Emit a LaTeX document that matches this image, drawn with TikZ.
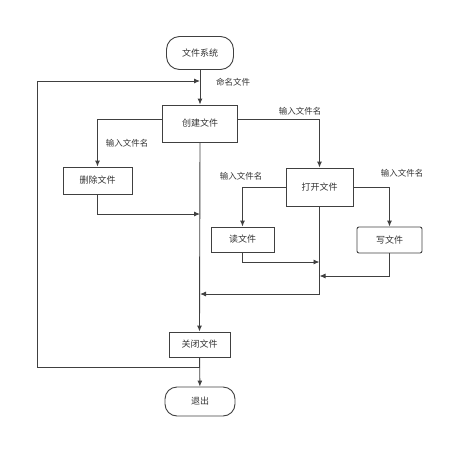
\documentclass[tikz,border=0pt]{standalone}
\usepackage{fontspec}
\setmainfont{Noto Sans CJK SC}
\usepackage{xcolor}
\usepackage{tikz}
\usetikzlibrary{positioning,arrows.meta}

\definecolor{linegray}{HTML}{404040}
\definecolor{textgray}{HTML}{333333}

\tikzset{
  proc/.style={draw=linegray, line width=0.9pt, inner sep=0pt, text=textgray,
    font=\fontsize{9}{9}\selectfont},
  term/.style={proc, rounded corners=13pt},
  lbl/.style={text=textgray, inner sep=0pt, font=\fontsize{8.5}{8.5}\selectfont},
  arr/.style={draw=linegray, line width=0.9pt, -{Latex[length=6pt,width=5pt]}},
  wire/.style={draw=linegray, line width=0.9pt}
}

\begin{document}
\begin{tikzpicture}[x=1pt,y=-1pt]
\useasboundingbox (0,0) rectangle (474,453);
% boxes
\node[term, minimum width=67pt, minimum height=33pt] (fs) at (200,53) {文件系统};
\node[proc, minimum width=75pt, minimum height=37pt] (create) at (200,123.5) {创建文件};
\node[proc, minimum width=69pt, minimum height=27pt] (del) at (97.5,180.5) {删除文件};
\node[proc, minimum width=67pt, minimum height=38pt] (open) at (319.5,187) {打开文件};
\node[proc, minimum width=63pt, minimum height=25pt] (read) at (242.5,239.5) {读文件};
\node[proc, rounded corners=2pt, minimum width=65pt, minimum height=26pt] (write) at (389.5,240) {写文件};
\node[proc, minimum width=61pt, minimum height=25pt] (close) at (199.5,344.5) {关闭文件};
\node[term, rounded corners=12pt, minimum width=70pt, minimum height=29pt] (exit) at (200,401.5) {退出};
% labels
\node[lbl] (name) at (233,82) {命名文件};
\node[lbl] (indel) at (127,143) {输入文件名};
\node[lbl] (inopen) at (300,111) {输入文件名};
\node[lbl] (inread) at (241,176) {输入文件名};
\node[lbl] (inwrite) at (402,173) {输入文件名};
% join points
\coordinate (jdel) at (200,214);
\coordinate (jread) at (319.5,262);
\coordinate (jwrite) at (319.5,276);
\coordinate (jopen) at (319.5,294);
\coordinate (jback) at (200,294);
\coordinate (loopa) at (200,367);
\coordinate (loopb) at (37,367);
\coordinate (loopc) at (37,81);
\coordinate (loopd) at (200,81);
% connectors
\draw[arr] (fs) -- (create);
\draw[arr] ([yshift=4pt]create.west) -| (del.north);
\draw[arr] ([yshift=4pt]create.east) -| (open.north);
\draw[arr] (open.west) -| (read.north);
\draw[arr] (open.east) -| (write.north);
\draw[arr] (del.south) |- (jdel);
\draw[arr] (read.south) |- (jread);
\draw[arr] (write.south) |- (jwrite);
\draw[wire] (open.south) -- (jopen);
\draw[arr] (jopen) -- (jback);
\draw[arr] (create.south) -- (close.north);
\draw[arr] (close) -- (exit);
\draw[arr] (loopa) -- (loopb) -- (loopc) -- (loopd);
\end{tikzpicture}
\end{document}
